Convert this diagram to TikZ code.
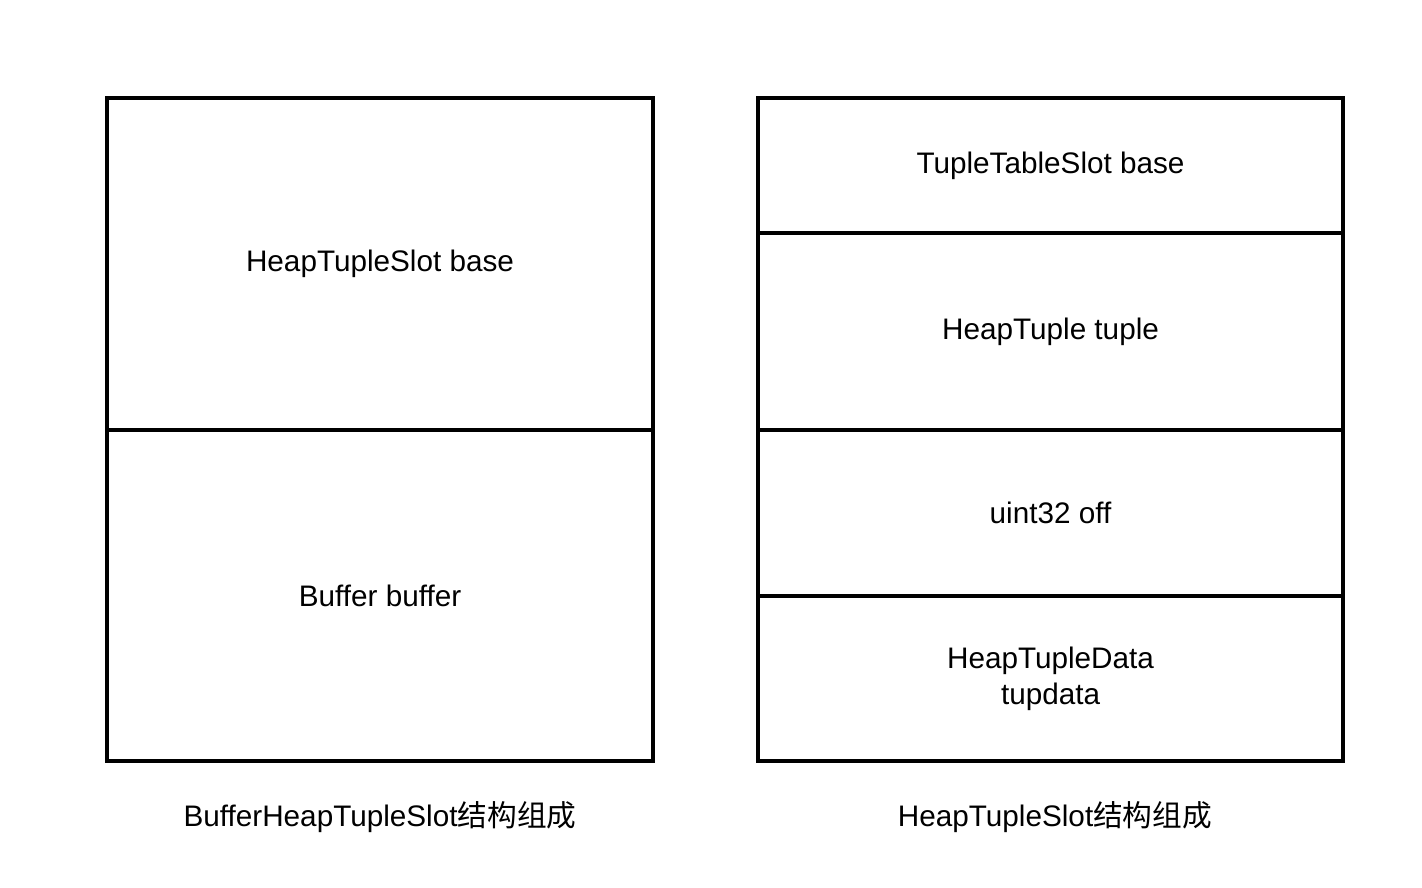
\documentclass[tikz,border=0pt]{standalone}
\usepackage{fontspec}
\setmainfont{Liberation Sans}
\newfontfamily\cjkfont{Noto Sans CJK SC}
\tikzset{cell/.style={draw,line width=2.3pt,rectangle,inner sep=0pt,align=center,font=\fontsize{16.9pt}{20.5pt}\selectfont}}
\tikzset{caption/.style={font=\fontsize{16.9pt}{20.5pt}\selectfont}}
\newcommand{\cell}[5]{\node[cell,minimum width=#3*0.02cm,minimum height=#4*0.02cm,anchor=north west] (#1) at (#2) {#5};}

\begin{document}
\begin{tikzpicture}[x=0.02cm,y=-0.02cm]
  \useasboundingbox (0,0) rectangle (1422,888);
  % left box
  \cell{lbase}{105,96}{546}{332}{HeapTupleSlot base}
  \cell{lbuf}{105,428}{546}{331}{Buffer buffer}
  % right box
  \cell{rbase}{756,96}{585}{135}{TupleTableSlot base}
  \cell{rtuple}{756,231}{585}{197}{HeapTuple tuple}
  \cell{roff}{756,428}{585}{166}{uint32 off}
  \cell{rdata}{756,594}{585}{165}{HeapTupleData\\tupdata}
  % captions
  \node[caption] (lcap) at (380,817) {BufferHeapTupleSlot{\cjkfont 结构组成}};
  \node[caption] (rcap) at (1055,817) {HeapTupleSlot{\cjkfont 结构组成}};
\end{tikzpicture}
\end{document}
